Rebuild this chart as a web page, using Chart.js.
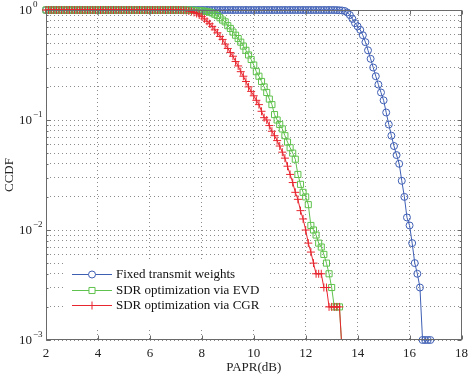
<!DOCTYPE html>
<html>
<head>
<meta charset="utf-8">
<script src="https://cdn.jsdelivr.net/npm/chart.js@4.4.0/dist/chart.umd.min.js"></script>
<style>
  html, body { margin: 0; padding: 0; background: #fff; }
  #wrap { width: 474px; height: 375px; }
</style>
</head>
<body>
<div id="wrap"><canvas id="ccdfChart" width="474" height="375"></canvas></div>
<script>
// PAPR axis (dB), one row per dB
const papr = [
  2.0, 2.1, 2.2, 2.3, 2.4, 2.5, 2.6, 2.7, 2.8, 2.9,
  3.0, 3.1, 3.2, 3.3, 3.4, 3.5, 3.6, 3.7, 3.8, 3.9,
  4.0, 4.1, 4.2, 4.3, 4.4, 4.5, 4.6, 4.7, 4.8, 4.9,
  5.0, 5.1, 5.2, 5.3, 5.4, 5.5, 5.6, 5.7, 5.8, 5.9,
  6.0, 6.1, 6.2, 6.3, 6.4, 6.5, 6.6, 6.7, 6.8, 6.9,
  7.0, 7.1, 7.2, 7.3, 7.4, 7.5, 7.6, 7.7, 7.8, 7.9,
  8.0, 8.1, 8.2, 8.3, 8.4, 8.5, 8.6, 8.7, 8.8, 8.9,
  9.0, 9.1, 9.2, 9.3, 9.4, 9.5, 9.6, 9.7, 9.8, 9.9,
  10.0, 10.1, 10.2, 10.3, 10.4, 10.5, 10.6, 10.7, 10.8, 10.9,
  11.0, 11.1, 11.2, 11.3, 11.4, 11.5, 11.6, 11.7, 11.8, 11.9,
  12.0, 12.1, 12.2, 12.3, 12.4, 12.5, 12.6, 12.7, 12.8, 12.9,
  13.0, 13.1, 13.2, 13.3, 13.4, 13.5, 13.6, 13.7, 13.8, 13.9,
  14.0, 14.1, 14.2, 14.3, 14.4, 14.5, 14.6, 14.7, 14.8, 14.9,
  15.0, 15.1, 15.2, 15.3, 15.4, 15.5, 15.6, 15.7, 15.8, 15.9,
  16.0, 16.1, 16.2, 16.3, 16.4, 16.5, 16.6, 16.7, 16.8
];

// Fixed transmit weights
const ccdfFixed = [
  1, 1, 1, 1, 1, 1, 1, 1, 1, 1,
  1, 1, 1, 1, 1, 1, 1, 1, 1, 1,
  1, 1, 1, 1, 1, 1, 1, 1, 1, 1,
  1, 1, 1, 1, 1, 1, 1, 1, 1, 1,
  1, 1, 1, 1, 1, 1, 1, 1, 1, 1,
  1, 1, 1, 1, 1, 1, 1, 1, 1, 1,
  1, 1, 1, 1, 1, 1, 1, 1, 1, 1,
  1, 1, 1, 1, 1, 1, 1, 1, 1, 1,
  1, 1, 1, 1, 1, 1, 1, 1, 1, 1,
  1, 1, 1, 1, 1, 1, 1, 1, 1, 1,
  1, 1, 1, 1, 1, 1, 1, 1, 1, 1,
  1, 1, 0.998, 0.995, 0.99, 0.98, 0.95, 0.9, 0.83, 0.76,
  0.71, 0.66, 0.59, 0.51, 0.43, 0.36, 0.30, 0.25, 0.21, 0.178,
  0.151, 0.117, 0.091, 0.072, 0.058, 0.048, 0.040, 0.028, 0.020, 0.013,
  0.011, 0.0076, 0.005, 0.004, 0.003, 0.001, 0.001, 0.001, 0.001
];

// SDR optimization via EVD
const ccdfEvd = [
  1, 1, 1, 1, 1, 1, 1, 1, 1, 1,
  1, 1, 1, 1, 1, 1, 1, 1, 1, 1,
  1, 1, 1, 1, 1, 1, 1, 1, 1, 1,
  1, 1, 1, 1, 1, 1, 1, 1, 1, 1,
  1, 1, 1, 1, 1, 1, 1, 1, 1, 1,
  1, 1, 1, 1, 0.999, 0.998, 0.995, 0.993, 0.99, 0.985,
  0.98, 0.975, 0.97, 0.955, 0.94, 0.915, 0.89, 0.85, 0.81, 0.78,
  0.72, 0.68, 0.63, 0.59, 0.55, 0.51, 0.47, 0.43, 0.39, 0.355,
  0.316, 0.275, 0.25, 0.224, 0.2, 0.178, 0.155, 0.138, 0.112, 0.1,
  0.091, 0.083, 0.072, 0.063, 0.056, 0.05, 0.044, 0.032, 0.026, 0.022,
  0.02, 0.017, 0.011, 0.01, 0.009, 0.0076, 0.007, 0.006, 0.005, 0.004,
  0.003, 0.002, 0.002, 0.002, 0.0008
];

// SDR optimization via CGR
const ccdfCgr = [
  1, 1, 1, 1, 1, 1, 1, 1, 1, 1,
  1, 1, 1, 1, 1, 1, 1, 1, 1, 1,
  1, 1, 1, 1, 1, 1, 1, 1, 1, 1,
  1, 1, 1, 1, 1, 1, 1, 1, 1, 1,
  1, 1, 1, 1, 1, 1, 1, 1, 1, 1,
  1, 1, 0.998, 0.995, 0.99, 0.98, 0.97, 0.95, 0.93, 0.90,
  0.87, 0.83, 0.79, 0.75, 0.71, 0.66, 0.62, 0.575, 0.54, 0.49,
  0.447, 0.41, 0.38, 0.34, 0.31, 0.275, 0.25, 0.224, 0.2, 0.182,
  0.166, 0.151, 0.138, 0.12, 0.105, 0.1, 0.089, 0.079, 0.072, 0.065,
  0.058, 0.051, 0.045, 0.038, 0.032, 0.027, 0.022, 0.019, 0.015, 0.0126,
  0.01, 0.0076, 0.0063, 0.005, 0.004, 0.004, 0.004, 0.003, 0.003, 0.002,
  0.002, 0.002, 0.002, 0.002, 0.0008
];

const seriesNames = ['Fixed transmit weights', 'SDR optimization via EVD', 'SDR optimization via CGR'];

// y grid lines (log decades with minors) and the labelled decades
const ccdfTicks = [
  0.001, 0.002, 0.003, 0.004, 0.005, 0.006, 0.007, 0.008, 0.009,
  0.01, 0.02, 0.03, 0.04, 0.05, 0.06, 0.07, 0.08, 0.09,
  0.1, 0.2, 0.3, 0.4, 0.5, 0.6, 0.7, 0.8, 0.9,
  1
];
const ccdfExponents = [-3, -2, -1, 0];
const paprTicks = [2, 4, 6, 8, 10, 12, 14, 16, 18];

const BLUE = '#3f5fb5';
const GREEN = '#5fc24c';
const RED = '#e8262f';
const SERIF = '"Liberation Serif", "Times New Roman", serif';

function toPoints(values) {
  return values.map((v, i) => ({x: papr[i], y: v}));
}

// y axis labels 10^n with raised exponent
const decadeLabels = {
  id: 'decadeLabels',
  afterDraw(chart) {
    const ctx = chart.ctx;
    const y = chart.scales.y;
    ctx.save();
    ctx.fillStyle = '#222';
    ccdfExponents.forEach(e => {
      const py = y.getPixelForValue(Math.pow(10, e));
      ctx.font = '13px ' + SERIF;
      ctx.textAlign = 'right';
      ctx.textBaseline = 'middle';
      ctx.fillText('10', 32, py + 1);
      ctx.font = '9px ' + SERIF;
      ctx.textAlign = 'left';
      ctx.fillText(e === 0 ? '0' : '\u2212' + Math.abs(e), 33, py - 5);
    });
    ctx.restore();
  }
};

// matlab style box, inner ticks and legend
const boxAndLegend = {
  id: 'boxAndLegend',
  afterDatasetsDraw(chart) {
    const {ctx, chartArea: a} = chart;
    const xs = chart.scales.x, ys = chart.scales.y;
    const L = Math.round(a.left) + 0.5, R = Math.round(a.right) - 0.5;
    const T = Math.round(a.top) + 0.5, B = Math.round(a.bottom) - 0.5;
    ctx.save();
    ctx.strokeStyle = '#6a6a6a';
    ctx.lineWidth = 1;
    ctx.beginPath();
    xs.ticks.forEach(t => {
      const px = Math.round(xs.getPixelForValue(t.value)) + 0.5;
      ctx.moveTo(px, B); ctx.lineTo(px, B - 4);
      ctx.moveTo(px, T); ctx.lineTo(px, T + 4);
    });
    ys.ticks.forEach(t => {
      const py = Math.round(ys.getPixelForValue(t.value)) + 0.5;
      const len = t.major ? 4 : 2;
      ctx.moveTo(L, py); ctx.lineTo(L + len, py);
      ctx.moveTo(R, py); ctx.lineTo(R - len, py);
    });
    ctx.stroke();
    ctx.strokeRect(L, T, R - L, B - T);

    // legend
    ctx.fillStyle = '#fff';
    ctx.fillRect(65, 260, 205, 68);
    const rows = [274, 289.5, 305];
    chart.data.datasets.forEach((ds, i) => {
      const ry = Math.round(rows[i]) + 0.5;
      ctx.strokeStyle = ds.borderColor;
      ctx.lineWidth = 1;
      ctx.beginPath();
      ctx.moveTo(72, ry); ctx.lineTo(112, ry);
      ctx.stroke();
      ctx.fillStyle = '#fff';
      Chart.helpers.drawPoint(ctx, {
        pointStyle: ds.pointStyle, radius: ds.pointRadius, borderWidth: 1, rotation: 0
      }, 92, ry);
      ctx.fillStyle = '#111';
      ctx.font = '13px ' + SERIF;
      ctx.textAlign = 'left';
      ctx.textBaseline = 'middle';
      ctx.fillText(ds.label, 116, ry);
    });
    ctx.restore();
  }
};

Chart.defaults.font.family = SERIF;

new Chart(document.getElementById('ccdfChart'), {
  type: 'line',
  data: {
    datasets: [
      {
        label: seriesNames[0], data: toPoints(ccdfFixed),
        borderColor: BLUE, backgroundColor: 'rgba(0,0,0,0)', borderWidth: 1,
        pointStyle: 'circle', pointRadius: 3.5, pointBorderColor: BLUE,
        pointBackgroundColor: 'rgba(0,0,0,0)', pointBorderWidth: 1,
        order: 3, clip: false
      },
      {
        label: seriesNames[1], data: toPoints(ccdfEvd),
        borderColor: GREEN, backgroundColor: 'rgba(0,0,0,0)', borderWidth: 1,
        pointStyle: 'rect', pointRadius: 4.3, pointBorderColor: GREEN,
        pointBackgroundColor: 'rgba(0,0,0,0)', pointBorderWidth: 1,
        order: 2, clip: {left: 10, top: 10, right: 10, bottom: 0}
      },
      {
        label: seriesNames[2], data: toPoints(ccdfCgr),
        borderColor: RED, backgroundColor: 'rgba(0,0,0,0)', borderWidth: 1,
        pointStyle: 'cross', pointRadius: 4, pointBorderColor: RED,
        pointBackgroundColor: 'rgba(0,0,0,0)', pointBorderWidth: 1,
        order: 1, clip: {left: 10, top: 10, right: 10, bottom: 0}
      }
    ]
  },
  options: {
    responsive: false,
    animation: false,
    devicePixelRatio: 1,
    layout: { padding: { top: 10, right: 9, left: 0, bottom: 0 } },
    plugins: { legend: { display: false }, tooltip: { enabled: false } },
    elements: { line: { tension: 0 } },
    scales: {
      x: {
        type: 'linear', min: 2, max: 18,
        afterBuildTicks: s => { s.ticks = paprTicks.map(v => ({value: v})); },
        ticks: { font: { size: 13 }, color: '#222', padding: 6, maxRotation: 0 },
        grid: { color: '#8c8c8c', drawTicks: false, lineWidth: 1 },
        border: { display: false, dash: [1, 3] },
        title: { display: true, text: 'PAPR(dB)', font: { size: 13 }, color: '#222', padding: 0 },
        afterFit: s => { s.height = 35; }
      },
      y: {
        type: 'logarithmic', min: 0.001, max: 1,
        afterBuildTicks: s => {
          s.ticks = ccdfTicks.map(v => ({value: v, major: ccdfExponents.some(e => Math.abs(Math.pow(10, e) - v) < 1e-9)}));
        },
        ticks: { display: false, autoSkip: false },
        grid: { color: '#8c8c8c', drawTicks: false, lineWidth: 1 },
        border: { display: false, dash: [1, 3] },
        title: { display: true, text: 'CCDF', font: { size: 13 }, color: '#222', padding: { top: 2, bottom: 0 } },
        afterFit: s => { s.width = 46; }
      }
    }
  },
  plugins: [decadeLabels, boxAndLegend]
});
</script>
</body>
</html>
